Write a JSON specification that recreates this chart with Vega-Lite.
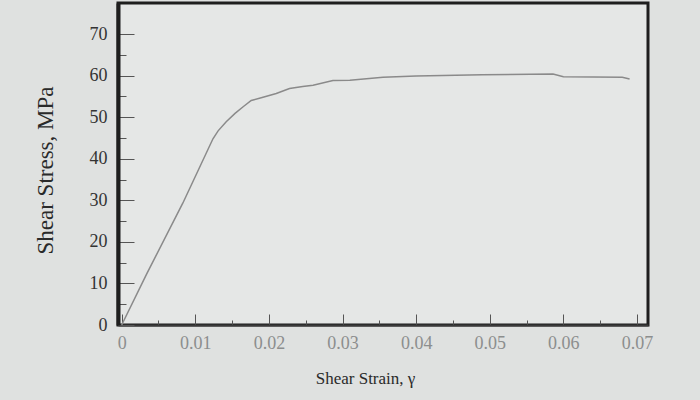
{
  "$schema": "https://vega.github.io/schema/vega-lite/v6.json",
  "width": 530,
  "height": 322,
  "autosize": "none",
  "padding": {"left": 118, "top": 3, "right": 52, "bottom": 75},
  "background": "#dfe1e0",
  "config": {
    "view": {"fill": "#e5e7e6", "stroke": "#1e1e1e", "strokeWidth": 3},
    "font": "Liberation Serif"
  },
  "data": {
    "values": [
      {"strain": 0, "stress": 0},
      {"strain": 0.0034, "stress": 12.3},
      {"strain": 0.0083, "stress": 29.3},
      {"strain": 0.0124, "stress": 44.8},
      {"strain": 0.0131, "stress": 46.7},
      {"strain": 0.0142, "stress": 48.9},
      {"strain": 0.0154, "stress": 50.9},
      {"strain": 0.0165, "stress": 52.5},
      {"strain": 0.0176, "stress": 54.0},
      {"strain": 0.0192, "stress": 54.8},
      {"strain": 0.021, "stress": 55.7},
      {"strain": 0.0228, "stress": 56.9},
      {"strain": 0.0246, "stress": 57.4},
      {"strain": 0.026, "stress": 57.7},
      {"strain": 0.0287, "stress": 58.8},
      {"strain": 0.031, "stress": 58.9},
      {"strain": 0.0355, "stress": 59.6},
      {"strain": 0.04, "stress": 59.9},
      {"strain": 0.049, "stress": 60.2},
      {"strain": 0.0586, "stress": 60.4},
      {"strain": 0.06, "stress": 59.7},
      {"strain": 0.068, "stress": 59.6},
      {"strain": 0.069, "stress": 59.2}
    ]
  },
  "mark": {"type": "line", "color": "#8a8a8a", "strokeWidth": 1.5},
  "encoding": {
    "x": {
      "field": "strain",
      "type": "quantitative",
      "scale": {"domain": [-0.0005, 0.0715], "nice": false, "zero": false},
      "axis": {
        "title": "Shear Strain, γ",
        "values": [0, 0.005, 0.01, 0.015, 0.02, 0.025, 0.03, 0.035, 0.04, 0.045, 0.05, 0.055, 0.06, 0.065, 0.07],
        "labelExpr": "round(datum.value*1000) % 10 === 0 ? (datum.value === 0 ? '0' : format(datum.value, '.2f')) : ''",
        "grid": false,
        "domainColor": "#3a3a3a",
        "domainWidth": 2,
        "tickColor": "#555555",
        "tickWidth": 1,
        "tickSize": {"condition": {"test": "round(datum.value*1000) % 10 === 0", "value": -11}, "value": -5},
        "labelPadding": 20,
        "labelFontSize": 18,
        "labelColor": "#8c8e8e",
        "labelFont": "Liberation Serif",
        "labelFlush": false,
        "labelOverlap": false,
        "titleFontSize": 17,
        "titleFontWeight": "normal",
        "titleColor": "#2a2a2a",
        "titleFont": "Liberation Serif",
        "titleX": 247,
        "titleY": 53,
        "titleBaseline": "middle"
      }
    },
    "y": {
      "field": "stress",
      "type": "quantitative",
      "scale": {"domain": [0, 77.46], "nice": false},
      "axis": {
        "title": "Shear Stress, MPa",
        "values": [0, 5, 10, 15, 20, 25, 30, 35, 40, 45, 50, 55, 60, 65, 70],
        "labelExpr": "datum.value % 10 === 0 ? datum.label : ''",
        "grid": false,
        "domainColor": "#1e1e1e",
        "domainWidth": 4,
        "tickColor": "#555555",
        "tickWidth": 1,
        "tickSize": {"condition": {"test": "datum.value % 10 === 0", "value": -16}, "value": -8},
        "labelPadding": 27,
        "labelFontSize": 18,
        "labelColor": "#333333",
        "labelFont": "Liberation Serif",
        "labelFlush": false,
        "labelOverlap": false,
        "titleFontSize": 23,
        "titleFontWeight": "normal",
        "titleColor": "#2a2a2a",
        "titleFont": "Liberation Serif",
        "titleX": -73,
        "titleY": 167,
        "titleBaseline": "middle"
      }
    }
  }
}
